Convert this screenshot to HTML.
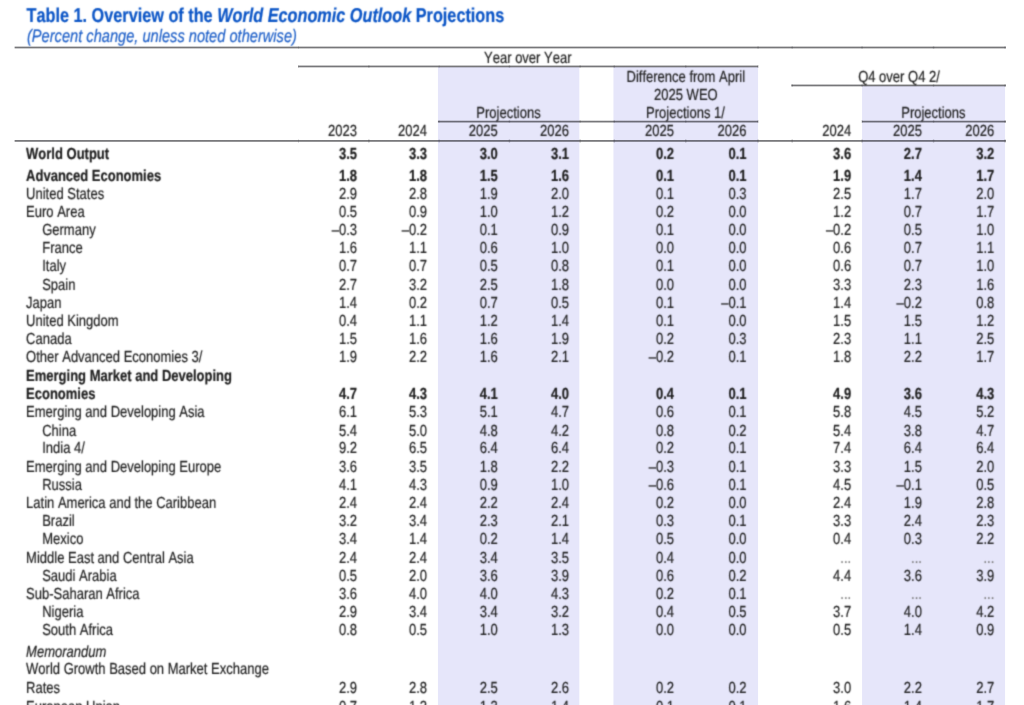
<!DOCTYPE html>
<html><head><meta charset="utf-8"><title>Table 1</title>
<style>
html,body{margin:0;padding:0;background:#fff;}
body{width:1024px;height:705px;overflow:hidden;position:relative;font-family:"Liberation Sans",sans-serif;font-size:16.000px;line-height:18px;color:#1e1e1e;font-kerning:none;text-rendering:geometricPrecision;}
#pg{position:absolute;left:0;top:0;width:1260.31px;height:705px;overflow:hidden;transform:scaleX(0.81250);transform-origin:0 0;}
.sh{position:absolute;background:#e6e6fa;}
.ln{position:absolute;}
.tk{position:absolute;width:1.8px;height:3.6px;background:rgba(20,20,25,0.16);border-radius:1px;}
#tx{position:absolute;left:0;top:0;width:1260.31px;height:705px;filter:url(#bl);-webkit-text-stroke:0.22px currentColor;}
.r{position:absolute;left:0;width:1260.31px;height:18px;white-space:nowrap;}
.r b,.r i,.r span{position:absolute;top:0;}
.l{left:32.12px;}
.l.in{left:51.94px;}
.n{width:70px;text-align:right;}
.bd span{font-weight:bold;}
.d{color:#777;}
.h{position:absolute;text-align:center;white-space:nowrap;height:18px;}
#t1{position:absolute;left:32.74px;top:4.82px;font-size:20.000px;line-height:22px;font-weight:bold;color:#0b55c6;white-space:nowrap;}
#t2{position:absolute;left:33.23px;top:26.36px;font-size:18.000px;line-height:20px;font-style:italic;color:#1f60c8;white-space:nowrap;}
</style></head><body>
<svg width="0" height="0" style="position:absolute"><filter id="bl" x="0" y="0" width="100%" height="100%" color-interpolation-filters="sRGB"><feConvolveMatrix order="5" kernelMatrix="0.00001 0.00062 0.00227 0.00062 0.00001 0.00062 0.03065 0.11253 0.03065 0.00062 0.00227 0.11253 0.41321 0.11253 0.00227 0.00062 0.03065 0.11253 0.03065 0.00062 0.00001 0.00062 0.00227 0.00062 0.00001" divisor="1" edgeMode="duplicate" preserveAlpha="false"/></filter></svg>
<div id="pg">
<div class="sh" style="left:539.08px;top:67px;width:174.03px;height:643px"></div>
<div class="sh" style="left:755.32px;top:67px;width:177.72px;height:643px"></div>
<div class="sh" style="left:1060.55px;top:86px;width:176.37px;height:624px"></div>
<div class="ln" style="left:18.46px;top:46px;width:1219.08px;height:3px;background:linear-gradient(to bottom,rgba(20,20,25,0.22) 0px 1px,rgba(20,20,25,0.58) 1px 2px,rgba(20,20,25,0.22) 2px 3px)"></div>
<div class="tk" style="left:366.65px;top:45.70px"></div><div class="tk" style="left:932.06px;top:45.70px"></div><div class="tk" style="left:973.78px;top:45.70px"></div><div class="tk" style="left:1059.94px;top:45.70px"></div><div class="tk" style="left:1147.94px;top:45.70px"></div><div class="tk" style="left:1236.43px;top:45.70px"></div>
<div class="ln" style="left:366.52px;top:65px;width:566.52px;height:3px;background:linear-gradient(to bottom,rgba(20,20,25,0.249) 0px 1px,rgba(20,20,25,0.58) 1px 2px,rgba(20,20,25,0.191) 2px 3px)"></div>
<div class="tk" style="left:366.65px;top:64.65px"></div><div class="tk" style="left:453.05px;top:64.65px"></div><div class="tk" style="left:539.69px;top:64.65px"></div><div class="tk" style="left:626.34px;top:64.65px"></div><div class="tk" style="left:713.23px;top:64.65px"></div><div class="tk" style="left:754.83px;top:64.65px"></div><div class="tk" style="left:842.83px;top:64.65px"></div><div class="tk" style="left:932.06px;top:64.65px"></div>
<div class="ln" style="left:974.46px;top:84px;width:263.08px;height:3px;background:linear-gradient(to bottom,rgba(20,20,25,0.249) 0px 1px,rgba(20,20,25,0.58) 1px 2px,rgba(20,20,25,0.191) 2px 3px)"></div>
<div class="tk" style="left:973.78px;top:83.65px"></div><div class="tk" style="left:1059.94px;top:83.65px"></div><div class="tk" style="left:1147.94px;top:83.65px"></div><div class="tk" style="left:1236.43px;top:83.65px"></div>
<div class="ln" style="left:539.08px;top:120px;width:393.97px;height:3px;background:linear-gradient(to bottom,rgba(20,20,25,0.162) 0px 1px,rgba(20,20,25,0.58) 1px 2px,rgba(20,20,25,0.278) 2px 3px)"></div>
<div class="tk" style="left:539.69px;top:119.80px"></div><div class="tk" style="left:626.34px;top:119.80px"></div><div class="tk" style="left:713.23px;top:119.80px"></div><div class="tk" style="left:754.83px;top:119.80px"></div><div class="tk" style="left:842.83px;top:119.80px"></div><div class="tk" style="left:932.06px;top:119.80px"></div>
<div class="ln" style="left:1060.62px;top:120px;width:176.92px;height:3px;background:linear-gradient(to bottom,rgba(20,20,25,0.162) 0px 1px,rgba(20,20,25,0.58) 1px 2px,rgba(20,20,25,0.278) 2px 3px)"></div>
<div class="tk" style="left:1059.94px;top:119.80px"></div><div class="tk" style="left:1147.94px;top:119.80px"></div><div class="tk" style="left:1236.43px;top:119.80px"></div>
<div class="ln" style="left:18.46px;top:140px;width:1219.08px;height:2px;background:linear-gradient(to bottom,rgba(20,20,25,0.568) 0px 1px,rgba(20,20,25,0.452) 1px 2px)"></div>
<div class="tk" style="left:366.65px;top:139.10px"></div><div class="tk" style="left:453.05px;top:139.10px"></div><div class="tk" style="left:539.69px;top:139.10px"></div><div class="tk" style="left:626.34px;top:139.10px"></div><div class="tk" style="left:713.23px;top:139.10px"></div><div class="tk" style="left:754.83px;top:139.10px"></div><div class="tk" style="left:842.83px;top:139.10px"></div><div class="tk" style="left:932.06px;top:139.10px"></div><div class="tk" style="left:973.78px;top:139.10px"></div><div class="tk" style="left:1059.94px;top:139.10px"></div><div class="tk" style="left:1147.94px;top:139.10px"></div><div class="tk" style="left:1236.43px;top:139.10px"></div>
<div id="tx">
<div id="t1">Table 1. Overview of the <i>World Economic Outlook</i> Projections</div>
<div id="t2">(Percent change, unless noted otherwise)</div>
<div class="h" style="left:529.60px;width:240px;top:49.50px">Year over Year</div>
<div class="h" style="left:505.85px;width:240px;top:104.50px">Projections</div>
<div class="h" style="left:724.06px;width:240px;top:68.50px">Difference from April</div>
<div class="h" style="left:724.18px;width:240px;top:86.50px">2025 WEO</div>
<div class="h" style="left:723.69px;width:240px;top:104.50px">Projections 1/</div>
<div class="h" style="left:986.46px;width:240px;top:68.50px">Q4 over Q4 2/</div>
<div class="h" style="left:1028.80px;width:240px;top:104.50px">Projections</div>
<div class="r" style="top:122.50px"><span class="n" style="left:369.38px">2023</span><span class="n" style="left:455.54px">2024</span><span class="n" style="left:542.62px">2025</span><span class="n" style="left:630.31px">2026</span><span class="n" style="left:759.54px">2025</span><span class="n" style="left:848.77px">2026</span><span class="n" style="left:977.63px">2024</span><span class="n" style="left:1064.65px">2025</span><span class="n" style="left:1153.69px">2026</span></div>
<div class="r bd" style="top:145.50px"><span class="l">World Output</span><span class="n" style="left:369.38px">3.5</span><span class="n" style="left:455.54px">3.3</span><span class="n" style="left:542.62px">3.0</span><span class="n" style="left:630.31px">3.1</span><span class="n" style="left:759.54px">0.2</span><span class="n" style="left:848.77px">0.1</span><span class="n" style="left:977.63px">3.6</span><span class="n" style="left:1064.65px">2.7</span><span class="n" style="left:1153.69px">3.2</span></div>
<div class="r bd" style="top:167.50px"><span class="l">Advanced Economies</span><span class="n" style="left:369.38px">1.8</span><span class="n" style="left:455.54px">1.8</span><span class="n" style="left:542.62px">1.5</span><span class="n" style="left:630.31px">1.6</span><span class="n" style="left:759.54px">0.1</span><span class="n" style="left:848.77px">0.1</span><span class="n" style="left:977.63px">1.9</span><span class="n" style="left:1064.65px">1.4</span><span class="n" style="left:1153.69px">1.7</span></div>
<div class="r" style="top:185.50px"><span class="l">United States</span><span class="n" style="left:369.38px">2.9</span><span class="n" style="left:455.54px">2.8</span><span class="n" style="left:542.62px">1.9</span><span class="n" style="left:630.31px">2.0</span><span class="n" style="left:759.54px">0.1</span><span class="n" style="left:848.77px">0.3</span><span class="n" style="left:977.63px">2.5</span><span class="n" style="left:1064.65px">1.7</span><span class="n" style="left:1153.69px">2.0</span></div>
<div class="r" style="top:203.50px"><span class="l">Euro Area</span><span class="n" style="left:369.38px">0.5</span><span class="n" style="left:455.54px">0.9</span><span class="n" style="left:542.62px">1.0</span><span class="n" style="left:630.31px">1.2</span><span class="n" style="left:759.54px">0.2</span><span class="n" style="left:848.77px">0.0</span><span class="n" style="left:977.63px">1.2</span><span class="n" style="left:1064.65px">0.7</span><span class="n" style="left:1153.69px">1.7</span></div>
<div class="r" style="top:221.50px"><span class="l in">Germany</span><span class="n" style="left:369.38px">–0.3</span><span class="n" style="left:455.54px">–0.2</span><span class="n" style="left:542.62px">0.1</span><span class="n" style="left:630.31px">0.9</span><span class="n" style="left:759.54px">0.1</span><span class="n" style="left:848.77px">0.0</span><span class="n" style="left:977.63px">–0.2</span><span class="n" style="left:1064.65px">0.5</span><span class="n" style="left:1153.69px">1.0</span></div>
<div class="r" style="top:239.50px"><span class="l in">France</span><span class="n" style="left:369.38px">1.6</span><span class="n" style="left:455.54px">1.1</span><span class="n" style="left:542.62px">0.6</span><span class="n" style="left:630.31px">1.0</span><span class="n" style="left:759.54px">0.0</span><span class="n" style="left:848.77px">0.0</span><span class="n" style="left:977.63px">0.6</span><span class="n" style="left:1064.65px">0.7</span><span class="n" style="left:1153.69px">1.1</span></div>
<div class="r" style="top:257.50px"><span class="l in">Italy</span><span class="n" style="left:369.38px">0.7</span><span class="n" style="left:455.54px">0.7</span><span class="n" style="left:542.62px">0.5</span><span class="n" style="left:630.31px">0.8</span><span class="n" style="left:759.54px">0.1</span><span class="n" style="left:848.77px">0.0</span><span class="n" style="left:977.63px">0.6</span><span class="n" style="left:1064.65px">0.7</span><span class="n" style="left:1153.69px">1.0</span></div>
<div class="r" style="top:276.50px"><span class="l in">Spain</span><span class="n" style="left:369.38px">2.7</span><span class="n" style="left:455.54px">3.2</span><span class="n" style="left:542.62px">2.5</span><span class="n" style="left:630.31px">1.8</span><span class="n" style="left:759.54px">0.0</span><span class="n" style="left:848.77px">0.0</span><span class="n" style="left:977.63px">3.3</span><span class="n" style="left:1064.65px">2.3</span><span class="n" style="left:1153.69px">1.6</span></div>
<div class="r" style="top:294.50px"><span class="l">Japan</span><span class="n" style="left:369.38px">1.4</span><span class="n" style="left:455.54px">0.2</span><span class="n" style="left:542.62px">0.7</span><span class="n" style="left:630.31px">0.5</span><span class="n" style="left:759.54px">0.1</span><span class="n" style="left:848.77px">–0.1</span><span class="n" style="left:977.63px">1.4</span><span class="n" style="left:1064.65px">–0.2</span><span class="n" style="left:1153.69px">0.8</span></div>
<div class="r" style="top:312.50px"><span class="l">United Kingdom</span><span class="n" style="left:369.38px">0.4</span><span class="n" style="left:455.54px">1.1</span><span class="n" style="left:542.62px">1.2</span><span class="n" style="left:630.31px">1.4</span><span class="n" style="left:759.54px">0.1</span><span class="n" style="left:848.77px">0.0</span><span class="n" style="left:977.63px">1.5</span><span class="n" style="left:1064.65px">1.5</span><span class="n" style="left:1153.69px">1.2</span></div>
<div class="r" style="top:330.50px"><span class="l">Canada</span><span class="n" style="left:369.38px">1.5</span><span class="n" style="left:455.54px">1.6</span><span class="n" style="left:542.62px">1.6</span><span class="n" style="left:630.31px">1.9</span><span class="n" style="left:759.54px">0.2</span><span class="n" style="left:848.77px">0.3</span><span class="n" style="left:977.63px">2.3</span><span class="n" style="left:1064.65px">1.1</span><span class="n" style="left:1153.69px">2.5</span></div>
<div class="r" style="top:348.50px"><span class="l">Other Advanced Economies 3/</span><span class="n" style="left:369.38px">1.9</span><span class="n" style="left:455.54px">2.2</span><span class="n" style="left:542.62px">1.6</span><span class="n" style="left:630.31px">2.1</span><span class="n" style="left:759.54px">–0.2</span><span class="n" style="left:848.77px">0.1</span><span class="n" style="left:977.63px">1.8</span><span class="n" style="left:1064.65px">2.2</span><span class="n" style="left:1153.69px">1.7</span></div>
<div class="r bd" style="top:367.50px"><span class="l">Emerging Market and Developing</span></div>
<div class="r bd" style="top:385.50px"><span class="l">Economies</span><span class="n" style="left:369.38px">4.7</span><span class="n" style="left:455.54px">4.3</span><span class="n" style="left:542.62px">4.1</span><span class="n" style="left:630.31px">4.0</span><span class="n" style="left:759.54px">0.4</span><span class="n" style="left:848.77px">0.1</span><span class="n" style="left:977.63px">4.9</span><span class="n" style="left:1064.65px">3.6</span><span class="n" style="left:1153.69px">4.3</span></div>
<div class="r" style="top:403.50px"><span class="l">Emerging and Developing Asia</span><span class="n" style="left:369.38px">6.1</span><span class="n" style="left:455.54px">5.3</span><span class="n" style="left:542.62px">5.1</span><span class="n" style="left:630.31px">4.7</span><span class="n" style="left:759.54px">0.6</span><span class="n" style="left:848.77px">0.1</span><span class="n" style="left:977.63px">5.8</span><span class="n" style="left:1064.65px">4.5</span><span class="n" style="left:1153.69px">5.2</span></div>
<div class="r" style="top:422.50px"><span class="l in">China</span><span class="n" style="left:369.38px">5.4</span><span class="n" style="left:455.54px">5.0</span><span class="n" style="left:542.62px">4.8</span><span class="n" style="left:630.31px">4.2</span><span class="n" style="left:759.54px">0.8</span><span class="n" style="left:848.77px">0.2</span><span class="n" style="left:977.63px">5.4</span><span class="n" style="left:1064.65px">3.8</span><span class="n" style="left:1153.69px">4.7</span></div>
<div class="r" style="top:439.50px"><span class="l in">India 4/</span><span class="n" style="left:369.38px">9.2</span><span class="n" style="left:455.54px">6.5</span><span class="n" style="left:542.62px">6.4</span><span class="n" style="left:630.31px">6.4</span><span class="n" style="left:759.54px">0.2</span><span class="n" style="left:848.77px">0.1</span><span class="n" style="left:977.63px">7.4</span><span class="n" style="left:1064.65px">6.4</span><span class="n" style="left:1153.69px">6.4</span></div>
<div class="r" style="top:458.50px"><span class="l">Emerging and Developing Europe</span><span class="n" style="left:369.38px">3.6</span><span class="n" style="left:455.54px">3.5</span><span class="n" style="left:542.62px">1.8</span><span class="n" style="left:630.31px">2.2</span><span class="n" style="left:759.54px">–0.3</span><span class="n" style="left:848.77px">0.1</span><span class="n" style="left:977.63px">3.3</span><span class="n" style="left:1064.65px">1.5</span><span class="n" style="left:1153.69px">2.0</span></div>
<div class="r" style="top:476.50px"><span class="l in">Russia</span><span class="n" style="left:369.38px">4.1</span><span class="n" style="left:455.54px">4.3</span><span class="n" style="left:542.62px">0.9</span><span class="n" style="left:630.31px">1.0</span><span class="n" style="left:759.54px">–0.6</span><span class="n" style="left:848.77px">0.1</span><span class="n" style="left:977.63px">4.5</span><span class="n" style="left:1064.65px">–0.1</span><span class="n" style="left:1153.69px">0.5</span></div>
<div class="r" style="top:494.50px"><span class="l">Latin America and the Caribbean</span><span class="n" style="left:369.38px">2.4</span><span class="n" style="left:455.54px">2.4</span><span class="n" style="left:542.62px">2.2</span><span class="n" style="left:630.31px">2.4</span><span class="n" style="left:759.54px">0.2</span><span class="n" style="left:848.77px">0.0</span><span class="n" style="left:977.63px">2.4</span><span class="n" style="left:1064.65px">1.9</span><span class="n" style="left:1153.69px">2.8</span></div>
<div class="r" style="top:512.50px"><span class="l in">Brazil</span><span class="n" style="left:369.38px">3.2</span><span class="n" style="left:455.54px">3.4</span><span class="n" style="left:542.62px">2.3</span><span class="n" style="left:630.31px">2.1</span><span class="n" style="left:759.54px">0.3</span><span class="n" style="left:848.77px">0.1</span><span class="n" style="left:977.63px">3.3</span><span class="n" style="left:1064.65px">2.4</span><span class="n" style="left:1153.69px">2.3</span></div>
<div class="r" style="top:530.50px"><span class="l in">Mexico</span><span class="n" style="left:369.38px">3.4</span><span class="n" style="left:455.54px">1.4</span><span class="n" style="left:542.62px">0.2</span><span class="n" style="left:630.31px">1.4</span><span class="n" style="left:759.54px">0.5</span><span class="n" style="left:848.77px">0.0</span><span class="n" style="left:977.63px">0.4</span><span class="n" style="left:1064.65px">0.3</span><span class="n" style="left:1153.69px">2.2</span></div>
<div class="r" style="top:549.50px"><span class="l">Middle East and Central Asia</span><span class="n" style="left:369.38px">2.4</span><span class="n" style="left:455.54px">2.4</span><span class="n" style="left:542.62px">3.4</span><span class="n" style="left:630.31px">3.5</span><span class="n" style="left:759.54px">0.4</span><span class="n" style="left:848.77px">0.0</span><span class="n d" style="left:977.63px">...</span><span class="n d" style="left:1064.65px">...</span><span class="n d" style="left:1153.69px">...</span></div>
<div class="r" style="top:567.50px"><span class="l in">Saudi Arabia</span><span class="n" style="left:369.38px">0.5</span><span class="n" style="left:455.54px">2.0</span><span class="n" style="left:542.62px">3.6</span><span class="n" style="left:630.31px">3.9</span><span class="n" style="left:759.54px">0.6</span><span class="n" style="left:848.77px">0.2</span><span class="n" style="left:977.63px">4.4</span><span class="n" style="left:1064.65px">3.6</span><span class="n" style="left:1153.69px">3.9</span></div>
<div class="r" style="top:585.50px"><span class="l">Sub-Saharan Africa</span><span class="n" style="left:369.38px">3.6</span><span class="n" style="left:455.54px">4.0</span><span class="n" style="left:542.62px">4.0</span><span class="n" style="left:630.31px">4.3</span><span class="n" style="left:759.54px">0.2</span><span class="n" style="left:848.77px">0.1</span><span class="n d" style="left:977.63px">...</span><span class="n d" style="left:1064.65px">...</span><span class="n d" style="left:1153.69px">...</span></div>
<div class="r" style="top:603.50px"><span class="l in">Nigeria</span><span class="n" style="left:369.38px">2.9</span><span class="n" style="left:455.54px">3.4</span><span class="n" style="left:542.62px">3.4</span><span class="n" style="left:630.31px">3.2</span><span class="n" style="left:759.54px">0.4</span><span class="n" style="left:848.77px">0.5</span><span class="n" style="left:977.63px">3.7</span><span class="n" style="left:1064.65px">4.0</span><span class="n" style="left:1153.69px">4.2</span></div>
<div class="r" style="top:621.50px"><span class="l in">South Africa</span><span class="n" style="left:369.38px">0.8</span><span class="n" style="left:455.54px">0.5</span><span class="n" style="left:542.62px">1.0</span><span class="n" style="left:630.31px">1.3</span><span class="n" style="left:759.54px">0.0</span><span class="n" style="left:848.77px">0.0</span><span class="n" style="left:977.63px">0.5</span><span class="n" style="left:1064.65px">1.4</span><span class="n" style="left:1153.69px">0.9</span></div>
<div class="r" style="top:643.50px"><span class="l" style="font-style:italic">Memorandum</span></div>
<div class="r" style="top:660.50px"><span class="l">World Growth Based on Market Exchange</span></div>
<div class="r" style="top:679.50px"><span class="l">Rates</span><span class="n" style="left:369.38px">2.9</span><span class="n" style="left:455.54px">2.8</span><span class="n" style="left:542.62px">2.5</span><span class="n" style="left:630.31px">2.6</span><span class="n" style="left:759.54px">0.2</span><span class="n" style="left:848.77px">0.2</span><span class="n" style="left:977.63px">3.0</span><span class="n" style="left:1064.65px">2.2</span><span class="n" style="left:1153.69px">2.7</span></div>
<div class="r" style="top:698.50px"><span class="l">European Union</span><span class="n" style="left:369.38px">0.7</span><span class="n" style="left:455.54px">1.2</span><span class="n" style="left:542.62px">1.3</span><span class="n" style="left:630.31px">1.4</span><span class="n" style="left:759.54px">0.1</span><span class="n" style="left:848.77px">0.1</span><span class="n" style="left:977.63px">1.6</span><span class="n" style="left:1064.65px">1.4</span><span class="n" style="left:1153.69px">1.7</span></div>
</div>
</div></body></html>
